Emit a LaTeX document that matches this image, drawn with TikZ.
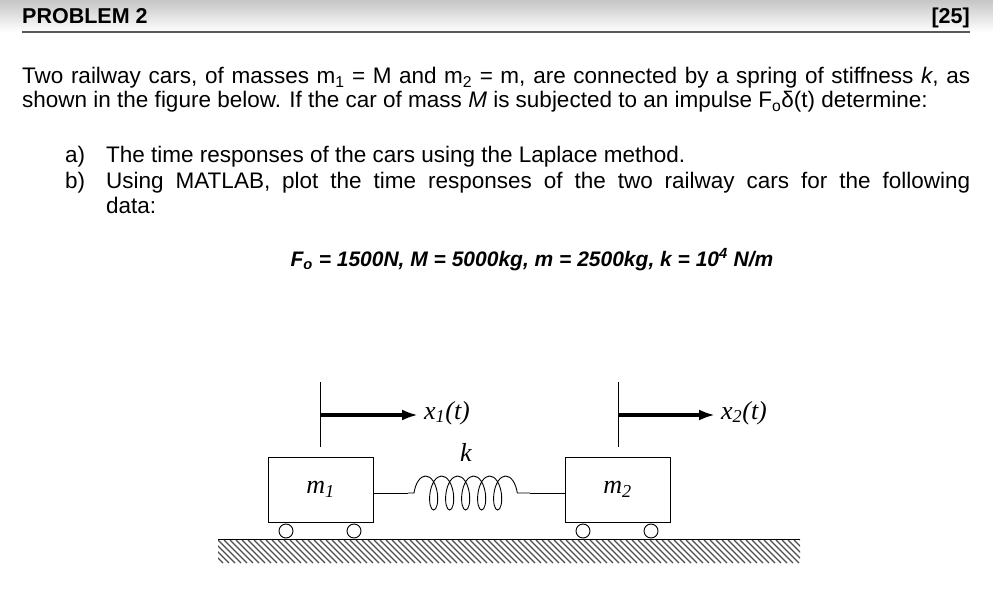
\documentclass[tikz,border=0pt]{standalone}
\usepackage{fontspec}
\setmainfont{Liberation Sans}
\newfontfamily\serifit{Liberation Serif}
\usetikzlibrary{decorations.pathmorphing,arrows.meta}
\begin{document}
\begin{tikzpicture}[x=1pt,y=-1pt,
  txt/.style={anchor=base west,inner sep=0,font=\fontsize{22.5}{25}\selectfont},
  car/.style={draw,line width=0.9pt,minimum width=105pt,minimum height=65pt,inner sep=0,font=\serifit\itshape\fontsize{26}{28}\selectfont},
  wheel/.style={draw,line width=0.9pt,circle,minimum size=14pt,inner sep=0,fill=white},
  lab/.style={font=\serifit\itshape\fontsize{26}{28}\selectfont,inner sep=0},
  disp/.style={-{Latex[length=16pt,width=11pt]},line width=3.5pt}]
\useasboundingbox (0,0) rectangle (993,599);
\shade[top color=gray!45,bottom color=white] (0,0) rectangle (993,32);
\draw[line width=1.6pt,gray!70!black] (22,32) -- (970,32);
\node[txt,font=\bfseries\fontsize{21.5}{24}\selectfont] (hd) at (22,24) {PROBLEM 2};
\node[txt,anchor=base east,font=\bfseries\fontsize{21.5}{24}\selectfont] (pt) at (970,24) {[25]};
\node[txt] (l1) at (22,84) {\makebox[948pt][s]{Two railway cars, of masses m\textsubscript{1} = M and m\textsubscript{2} = m, are connected by a spring of stiffness \textit{k}, as}};
\node[txt] (l2) at (22,108) {shown in the figure below. If the car of mass \textit{M} is subjected to an impulse F\textsubscript{o}δ(t) determine:};
\node[txt] (a) at (65,162) {a)};
\node[txt] (at) at (106,162) {The time responses of the cars using the Laplace method.};
\node[txt] (b) at (65,188) {b)};
\node[txt] (bt) at (106,188) {\makebox[864pt][s]{Using MATLAB, plot the time responses of the two railway cars for the following}};
\node[txt] (bt2) at (106,213) {data:};
\node[txt,anchor=base,font=\bfseries\itshape\fontsize{21}{23}\selectfont] (eq) at (532,266) {F\textsubscript{o} = 1500N, M = 5000kg, m = 2500kg, k = 10\textsuperscript{4} N/m};
% figure
\begin{scope}
\clip (218,540) rectangle (800,563);
\foreach \i in {0,...,100} { \draw[line width=1.3pt,gray!60!black] (200+\i*6,540) -- (223+\i*6,563); }
\end{scope}
\draw[line width=0.9pt] (218,539) -- (800,539);
\node[wheel] (w1) at (286,531) {};
\node[wheel] (w2) at (354,531) {};
\node[wheel] (w3) at (583,531) {};
\node[wheel] (w4) at (651,531) {};
\node[car] (m1) at (320.5,489.5) {m\textsubscript{1}};
\node[car] (m2) at (617.5,489.5) {m\textsubscript{2}};
\coordinate (s1) at (408,493);
\coordinate (s2) at (530,493);
\draw[line width=0.9pt] (m1.east|-s1) -- (s1);
\draw[line width=0.9pt] (s2) -- (m2.west|-s2);
\draw[line width=0.9pt,decorate,decoration={coil,aspect=0.45,segment length=16pt,amplitude=17pt,pre length=6pt,post length=6pt}] (s1) -- (s2);
\node[lab] (k) at (466,452) {k};
\coordinate (v1t) at (320,382); \coordinate (v1b) at (320,447);
\coordinate (v2t) at (618,382); \coordinate (v2b) at (618,447);
\draw[line width=0.8pt] (v1t) -- (v1b);
\draw[line width=0.8pt] (v2t) -- (v2b);
\coordinate (a1s) at (320,415); \coordinate (a2s) at (618,415);
\node[lab,anchor=west] (x1) at (424,413) {x\textsubscript{1}(t)};
\node[lab,anchor=west] (x2) at (721,413) {x\textsubscript{2}(t)};
\draw[disp] (a1s) -- ([xshift=-6pt]x1.west|-a1s);
\draw[disp] (a2s) -- ([xshift=-6pt]x2.west|-a2s);
\end{tikzpicture}
\end{document}
